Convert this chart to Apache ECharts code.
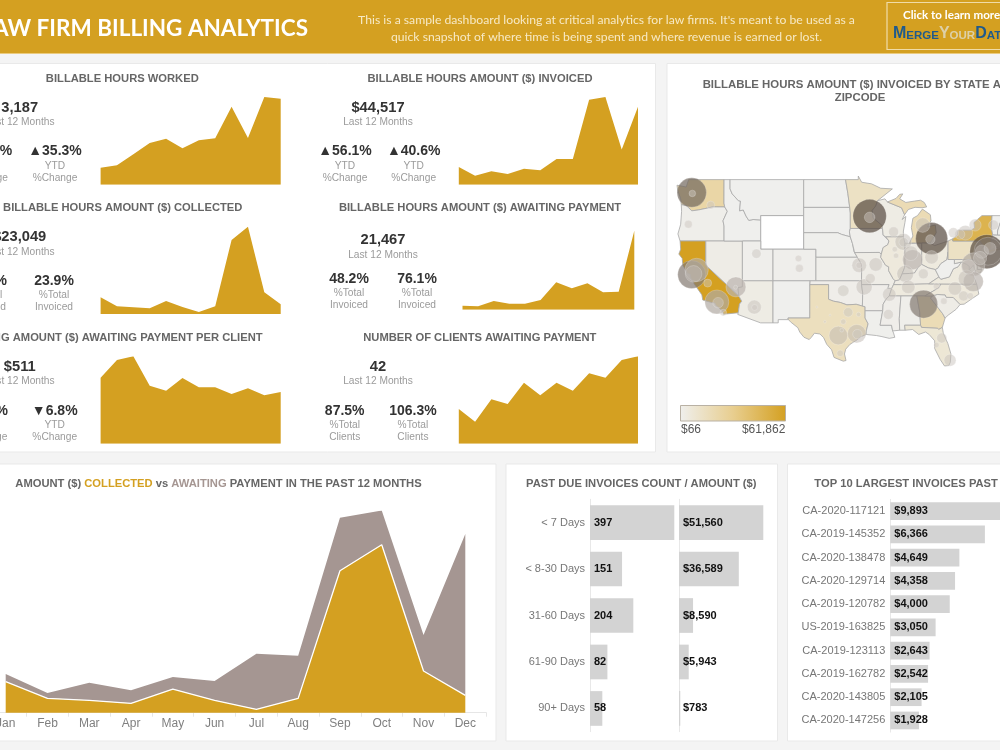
<!DOCTYPE html>
<html><head><meta charset="utf-8">
<style>html,body{margin:0;padding:0;background:#f4f4f4;overflow:hidden}#c{width:1000px;height:750px}</style>
<script src="https://cdn.jsdelivr.net/npm/echarts@6/dist/echarts.min.js"></script>
</head><body><div id="c"></div>
<script>
const months=['Jan','Feb','Mar','Apr','May','Jun','Jul','Aug','Sep','Oct','Nov','Dec'];
const hoursWorked=[51,58,91,125,138,109,133,139,234,140,263,258];
const amountInvoiced=[53,27,40,32,48,43,77,77,254,262,105,233];
const amountCollectedSpark=[50,23,20,17,39,21,6,23,222,262,65,29];
const amountAwaitingSpark=[12,10,26,18,18,29,82,64,79,52,54,237];
const amountPerClient=[198,251,262,174,159,197,169,169,149,166,145,155];
const clientsAwaiting=[104,66,133,119,183,145,183,159,211,198,251,262];
const collected=[93,43,37,28,71,37,10,43,426,504,125,52];
const awaiting=[23,16,53,39,36,58,167,128,159,103,108,484];
const dueCats=['< 7 Days','< 8-30 Days','31-60 Days','61-90 Days','90+ Days'];
const dueCounts=[397,151,204,82,58];
const dueAmounts=[51560,36589,8590,5943,783];
const invoiceIds=['CA-2020-117121','CA-2019-145352','CA-2020-138478','CA-2020-129714','CA-2019-120782','US-2019-163825','CA-2019-123113','CA-2019-162782','CA-2020-143805','CA-2020-147256'];
const invoiceAmounts=[9893,6366,4649,4358,4000,3050,2643,2542,2105,1928];
const stateValues={California:61862,'New York':49000,Washington:23500,Michigan:18500,Texas:15500,Minnesota:13500,Georgia:18000,Pennsylvania:13500,Florida:8000,Illinois:5500,Ohio:5000,Indiana:3500,Kentucky:3500,Tennessee:5000,'North Carolina':6000,Virginia:5000,Arizona:3000,Nevada:2500,Wisconsin:3000,Missouri:2500,Alabama:1000,Mississippi:1500,Louisiana:500,Oregon:1200,Iowa:700,'South Carolina':2500,Maryland:3000,Delaware:1500,'New Jersey':4000,Connecticut:2000,Massachusetts:2500,Arkansas:1500,Oklahoma:1500,Kansas:1000,Colorado:800,Utah:600,'New Mexico':200,Idaho:200,Montana:66,'North Dakota':100,'South Dakota':100,Nebraska:300,'West Virginia':150,Vermont:100,'New Hampshire':300,Maine:300,'Rhode Island':800};
const stateShapes={
Washington:[[[-124.7,48.4],[-123.2,48.2],[-122.8,49],[-117.03,49],[-117.04,46.42],[-116.92,45.99],[-118.98,46],[-119.3,45.93],[-121.2,45.65],[-122.3,45.55],[-122.8,45.9],[-123.2,46.15],[-124,46.25],[-124.1,46.9],[-124.6,47.9]]],
Oregon:[[[-124,46.25],[-123.2,46.15],[-122.8,45.9],[-122.3,45.55],[-121.2,45.65],[-119.3,45.93],[-118.98,46],[-116.92,45.99],[-116.5,45.5],[-117.2,44.4],[-117.03,43.8],[-117.03,42],[-120,42],[-124.2,42],[-124.55,42.85],[-124.1,44],[-123.95,45.5]]],
California:[[[-124.2,42],[-120,42],[-120,39],[-114.63,35],[-114.15,34.3],[-114.52,33.9],[-114.72,32.72],[-117.12,32.53],[-117.3,33],[-118.4,33.75],[-118.5,34.03],[-119.2,34.15],[-120.5,34.45],[-120.65,35.15],[-121.9,36.6],[-122.5,37.5],[-122.5,37.8],[-123,38],[-123.75,39],[-123.85,39.85],[-124.4,40.4],[-124.1,41]]],
Nevada:[[[-120,42],[-114.04,42],[-114.04,37],[-114.04,36.2],[-114.75,36.1],[-114.63,35],[-120,39]]],
Idaho:[[[-117.03,49],[-116.05,49],[-116.05,48],[-115.7,47.45],[-114.7,46.7],[-114.35,46.65],[-114.5,45.55],[-113.9,45.65],[-113.45,44.95],[-113,44.45],[-112.3,44.55],[-111.05,44.5],[-111.05,42],[-114.04,42],[-117.03,42],[-117.03,43.8],[-117.2,44.4],[-116.5,45.5],[-116.92,45.99],[-117.04,46.42]]],
Montana:[[[-116.05,49],[-104.05,49],[-104.05,45.94],[-104.05,45],[-111.05,45],[-111.05,44.5],[-112.3,44.55],[-113,44.45],[-113.45,44.95],[-113.9,45.65],[-114.5,45.55],[-114.35,46.65],[-114.7,46.7],[-115.7,47.45],[-116.05,48]]],
Wyoming:[[[-111.05,45],[-104.05,45],[-104.05,43],[-104.05,41],[-109.05,41],[-111.05,41],[-111.05,42],[-111.05,44.5]]],
Utah:[[[-114.04,42],[-111.05,42],[-111.05,41],[-109.05,41],[-109.05,37],[-114.04,37]]],
Colorado:[[[-109.05,41],[-104.05,41],[-102.05,41],[-102.05,40],[-102.05,37],[-103,37],[-109.05,37]]],
Arizona:[[[-114.04,37],[-109.05,37],[-109.05,31.33],[-111.07,31.33],[-114.8,32.5],[-114.72,32.72],[-114.52,33.9],[-114.15,34.3],[-114.63,35],[-114.75,36.1],[-114.04,36.2]]],
'New Mexico':[[[-109.05,37],[-103,37],[-103.04,36.5],[-103.05,32],[-106.62,32],[-106.53,31.78],[-108.2,31.78],[-108.2,31.33],[-109.05,31.33]]],
'North Dakota':[[[-104.05,49],[-97.23,49],[-96.85,47.5],[-96.55,45.94],[-104.05,45.94]]],
'South Dakota':[[[-104.05,45.94],[-96.55,45.94],[-96.45,45.3],[-96.45,43.5],[-96.6,43.1],[-96.45,42.5],[-97.9,42.8],[-98.5,43],[-104.05,43]]],
Nebraska:[[[-104.05,43],[-98.5,43],[-97.9,42.8],[-96.45,42.5],[-96.1,41.7],[-95.85,40.7],[-95.3,40],[-102.05,40],[-102.05,41],[-104.05,41]]],
Kansas:[[[-102.05,40],[-95.3,40],[-94.6,39.1],[-94.62,37],[-102.05,37]]],
Oklahoma:[[[-103,37],[-94.62,37],[-94.62,36.5],[-94.43,35.4],[-94.48,33.64],[-95.5,33.88],[-97,33.8],[-98.1,34.13],[-99.2,34.3],[-100,34.56],[-100,36.5],[-103.04,36.5]]],
Texas:[[[-106.62,32],[-103.05,32],[-103.04,36.5],[-100,36.5],[-100,34.56],[-99.2,34.3],[-98.1,34.13],[-97,33.8],[-95.5,33.88],[-94.48,33.64],[-94.04,33.55],[-94.04,32],[-93.55,31.2],[-93.85,30.2],[-93.85,29.7],[-94.7,29.4],[-95.4,28.9],[-96.5,28.3],[-97.2,27.6],[-97.4,26.9],[-97.15,25.95],[-97.6,25.85],[-99.1,26.4],[-99.5,27.5],[-100.3,28.3],[-100.8,29.25],[-101.4,29.77],[-102.3,29.88],[-102.8,29.3],[-103.15,28.98],[-104,29.3],[-104.7,30.05],[-105,30.65],[-106.2,31.47],[-106.53,31.78]]],
Minnesota:[[[-97.23,49],[-95.15,49],[-95.15,49.38],[-94.6,48.72],[-93,48.55],[-91.5,48.07],[-89.6,48],[-92,46.7],[-92.3,46.1],[-92.88,45.6],[-92.75,44.75],[-91.25,43.85],[-91.2,43.5],[-96.45,43.5],[-96.45,45.3],[-96.55,45.94],[-96.85,47.5]]],
Iowa:[[[-96.45,43.5],[-91.2,43.5],[-91.1,42.7],[-90.15,42],[-90.35,41.55],[-91.1,41.2],[-91.4,40.4],[-91.75,40.6],[-95.75,40.58],[-95.85,40.7],[-96.1,41.7],[-96.45,42.5],[-96.6,43.1]]],
Missouri:[[[-95.75,40.58],[-91.75,40.6],[-91.4,40.4],[-91.5,40],[-90.7,39],[-90.2,38.8],[-90.2,38.3],[-89.5,37.3],[-89.15,37],[-89.4,36.5],[-89.7,36],[-90.37,36],[-90.15,36.5],[-94.62,36.5],[-94.62,37],[-94.6,39.1],[-95.3,40]]],
Arkansas:[[[-94.62,36.5],[-90.15,36.5],[-90.37,36],[-89.7,36],[-90.1,35],[-90.6,34.6],[-91.1,33.9],[-91.17,33],[-94.04,33],[-94.04,33.55],[-94.48,33.64],[-94.43,35.4]]],
Louisiana:[[[-94.04,33],[-91.17,33],[-91.6,31],[-89.73,31],[-89.55,30.2],[-89.4,29.9],[-89.2,29.3],[-90.1,29.15],[-91.3,29.4],[-92.2,29.55],[-93.85,29.7],[-93.85,30.2],[-93.55,31.2],[-94.04,32]]],
Wisconsin:[[[-92,46.7],[-90.8,46.9],[-90.4,46.55],[-88.1,45.9],[-87.6,45.1],[-88,44.55],[-87.4,44.9],[-87.55,44.2],[-87.8,43.2],[-87.8,42.5],[-90.65,42.5],[-91.1,42.7],[-91.2,43.5],[-91.25,43.85],[-92.75,44.75],[-92.88,45.6],[-92.3,46.1]]],
Illinois:[[[-90.65,42.5],[-87.8,42.5],[-87.55,41.75],[-87.53,39.3],[-87.6,38.7],[-88,37.9],[-88.45,37.1],[-89.15,37],[-89.5,37.3],[-90.2,38.3],[-90.2,38.8],[-90.7,39],[-91.5,40],[-91.4,40.4],[-91.1,41.2],[-90.35,41.55],[-90.15,42]]],
Indiana:[[[-87.55,41.75],[-87,41.7],[-84.8,41.76],[-84.82,39.1],[-85.4,38.7],[-86,38],[-86.8,37.95],[-88,37.9],[-87.6,38.7],[-87.53,39.3]]],
Michigan:[[[-86.8,41.76],[-84.8,41.76],[-83.45,41.73],[-83.15,42.1],[-82.45,43],[-82.6,43.9],[-83.9,43.7],[-83.3,44.4],[-83.4,45.1],[-84.7,45.75],[-85.5,45],[-86.25,44.7],[-86.5,43.6],[-86.25,42.6]],[[-90.4,46.55],[-89,46.95],[-88.4,47.4],[-87.9,47.45],[-88.4,46.9],[-87.4,46.5],[-86,46.65],[-85,46.75],[-84.4,46.5],[-84,46],[-84.75,45.9],[-85.9,45.95],[-87,45.7],[-87.6,45.1],[-88.1,45.9]]],
Ohio:[[[-84.8,41.76],[-83.45,41.73],[-82.7,41.45],[-81.3,41.8],[-80.52,42],[-80.52,40.64],[-80.7,39.7],[-81.7,39.2],[-82.2,38.6],[-82.6,38.45],[-83.7,38.65],[-84.82,39.1]]],
Kentucky:[[[-89.4,36.5],[-88.07,36.5],[-83.68,36.6],[-82,37.5],[-82.6,38.45],[-83.7,38.65],[-84.82,39.1],[-85.4,38.7],[-86,38],[-86.8,37.95],[-88,37.9],[-88.45,37.1],[-89.15,37]]],
Tennessee:[[[-89.7,36],[-89.4,36.5],[-88.07,36.5],[-83.68,36.6],[-81.68,36.59],[-82,36.1],[-84.3,35],[-85.6,35],[-88.2,35],[-90.1,35]]],
Mississippi:[[[-90.1,35],[-88.2,35],[-88.47,31.9],[-88.4,30.3],[-89.55,30.2],[-89.73,31],[-91.6,31],[-91.17,33],[-91.1,33.9],[-90.6,34.6]]],
Alabama:[[[-88.2,35],[-85.6,35],[-85.13,32.8],[-85,31],[-87.6,31],[-87.5,30.3],[-88.4,30.3],[-88.47,31.9]]],
Georgia:[[[-85.6,35],[-83.1,35],[-83.35,34.7],[-81.4,32.6],[-81,32],[-81.45,30.7],[-82.05,30.4],[-82.2,30.57],[-84.85,30.7],[-85,31],[-85.13,32.8]]],
Florida:[[[-87.6,31],[-85,31],[-84.85,30.7],[-82.2,30.57],[-82.05,30.4],[-81.45,30.7],[-81.3,29.9],[-80.55,28.4],[-80.05,26.9],[-80.15,25.7],[-80.4,25.2],[-81.1,25.15],[-81.8,26.1],[-82.7,27.7],[-82.7,28.8],[-83.6,29.7],[-84.2,30.05],[-85.3,29.7],[-86.3,30.4],[-87.5,30.3]]],
'South Carolina':[[[-83.35,34.7],[-83.1,35],[-82.3,35.2],[-81,35.15],[-80.8,34.82],[-79.67,34.8],[-78.55,33.86],[-79.2,33.2],[-80.5,32.4],[-81,32],[-81.4,32.6]]],
'North Carolina':[[[-84.3,35],[-82,36.1],[-81.68,36.59],[-75.85,36.55],[-75.5,35.25],[-76.5,34.7],[-77.9,33.9],[-78.55,33.86],[-79.67,34.8],[-80.8,34.82],[-81,35.15],[-82.3,35.2],[-83.1,35]]],
Virginia:[[[-83.68,36.6],[-81.68,36.59],[-75.85,36.55],[-76.3,37.5],[-76.3,38],[-77.05,38.4],[-77.05,38.85],[-77.5,39.12],[-78.35,39.4],[-78.9,38.8],[-79.65,38.55],[-80.3,37.5],[-81.7,37.2],[-82,37.5]]],
'West Virginia':[[[-82.6,38.45],[-82.2,38.6],[-81.7,39.2],[-80.7,39.7],[-80.52,40.64],[-80.52,39.72],[-79.48,39.72],[-79.48,39.2],[-78.35,39.4],[-78.9,38.8],[-79.65,38.55],[-80.3,37.5],[-81.7,37.2],[-82,37.5]]],
Pennsylvania:[[[-80.52,42],[-79.76,42.27],[-79.76,42],[-75.35,42],[-74.7,41.35],[-75.13,40.97],[-75.1,40.4],[-74.72,40.15],[-75.4,39.8],[-75.79,39.72],[-79.48,39.72],[-80.52,39.72],[-80.52,40.64]]],
'New York':[[[-79.76,42.27],[-79,42.7],[-78.9,43.3],[-76.8,43.3],[-76.2,43.55],[-76.3,44.2],[-75,45],[-73.35,45],[-73.45,43.6],[-73.25,42.75],[-73.5,42.05],[-73.5,41.2],[-73.65,41],[-71.9,41.05],[-73.7,40.6],[-74,40.7],[-73.9,41],[-74.7,41.35],[-75.35,42],[-79.76,42]]],
'New Jersey':[[[-74.7,41.35],[-73.9,41],[-74,40.5],[-74.1,39.75],[-74.9,38.95],[-75.5,39.5],[-74.72,40.15],[-75.1,40.4],[-75.13,40.97]]],
Maryland:[[[-79.48,39.72],[-75.79,39.72],[-75.7,38.46],[-75.05,38.45],[-75.25,38.03],[-76,37.95],[-76.4,39],[-77.05,38.4],[-77.05,38.85],[-77.5,39.12],[-78.35,39.4],[-79.48,39.2]]],
Delaware:[[[-75.79,39.72],[-75.4,39.8],[-75.1,38.6],[-75.05,38.45],[-75.7,38.46]]],
Connecticut:[[[-73.5,42.05],[-71.8,42],[-71.85,41.32],[-73.65,41],[-73.5,41.2]]],
'Rhode Island':[[[-71.8,42],[-71.38,42],[-71.15,41.5],[-71.85,41.32]]],
Massachusetts:[[[-73.5,42.05],[-73.25,42.75],[-72.46,42.73],[-71.3,42.7],[-70.8,42.87],[-70.9,42.3],[-70.5,41.8],[-70,41.7],[-71.15,41.5],[-71.38,42],[-71.8,42]]],
Vermont:[[[-73.35,45],[-71.5,45],[-72.05,44.1],[-72.45,43.2],[-72.46,42.73],[-73.25,42.75],[-73.45,43.6]]],
'New Hampshire':[[[-71.5,45],[-71.08,45.3],[-71,43.5],[-70.7,43.07],[-70.8,42.87],[-71.3,42.7],[-72.46,42.73],[-72.45,43.2],[-72.05,44.1]]],
Maine:[[[-71.08,45.3],[-70.3,45.9],[-70,46.7],[-69.2,47.45],[-68.3,47.35],[-67.8,47.05],[-67.8,45.7],[-67,44.85],[-69,44],[-70.2,43.6],[-70.7,43.07],[-71,43.5]]]
};
const zipBubbles=[
[-122.3,47.6,8640],[-122.2,47.5,440],[-119.2,46.2,640],[-122.85,44,640],[-93.3,44.95,11150],[-93.3,44.8,1120],[-83.2,42.3,10240],[-83.4,42.2,880],[-84.65,43.9,2130],
[-74.2,40.7,11560],[-74,40.75,7840],[-73.67,41.1,1440],[-75,40.7,1800],[-122.3,37.8,7840],[-122,37.9,2760],[-121.5,38.4,5480],[-118.2,34.2,5760],[-118,34.1,1120],[-119.7,36.7,640],[-117.15,32.75,440],
[-115.1,36.2,4000],[-115.15,36.15,160],[-112.1,33.5,1960],[-112.05,33.45,360],[-111.75,40.45,880],[-104.75,38.6,640],[-104.9,39.85,440],[-96.8,32.8,880],[-98.4,29.55,3460],[-95.4,29.8,3460],[-95.3,29.75,880],
[-97.6,31.5,290],[-95.1,32.5,200],[-97.85,30.3,140],[-100.6,31.5,70],[-98.1,27,440],[-99.75,32.4,40],[-101.9,33.5,40],[-97.6,35.7,1300],[-95,39,2130],[-95,39,440],[-92.3,39.1,1800],[-93.2,37.3,1000],[-94.2,36.2,2560],[-90.1,35.2,1800],[-90.25,32.5,1000],
[-87.8,41.9,2760],[-87.75,41.85,880],[-89.4,43.1,1000],[-86.3,39.7,4000],[-86.6,40.5,2130],[-87.5,37.9,2760],[-87,36.2,1800],[-89,40.2,290],[-89.2,41,290],[-84.5,33.9,7840],[-81.55,29.2,1000],[-80.2,26,1440],[-82.4,28.2,290],
[-83.2,40,1800],[-84.55,37.9,1000],[-82.4,36.3,440],[-81.2,34.3,440],[-76.4,39.1,5480],[-77.5,37.3,2760],[-76.4,36.9,4000],[-79.4,36,1800],[-78.6,42.8,1000],[-76.1,43.9,1440],[-77.7,43,2130],[-77.2,38.8,2130],[-73.1,43.9,1000],[-78,35,1000],[-76.9,35,440],[-79.65,43,1000],[-75.3,39.9,1800]
];
const legendMin=66, legendMax=61862;

const GOLD='#D4A021', TAUPE='#A59692', FONT='"Liberation Sans",Arial,sans-serif', HEAD='Lato,"Open Sans",sans-serif';
const RAMP=['#EFEFED','#E8CE8F','#D4A021'];
echarts.registerMap('USA',{type:'FeatureCollection',features:Object.keys(stateShapes).map(n=>({type:'Feature',properties:{name:n},geometry:{type:'MultiPolygon',coordinates:stateShapes[n].map(r=>[r])}}))});

const rect=(x,y,w,h,fill,stroke,lw)=>({type:'rect',z:0,shape:{x,y,width:w,height:h},style:{fill,stroke:stroke||null,lineWidth:lw||0},silent:true});
const txt=(text,x,y,size,color,weight,align,extra)=>({type:'text',z:5,x,y,silent:true,style:Object.assign({text,fill:color,fontSize:size,fontWeight:weight||'normal',fontFamily:FONT,align:align||'center',verticalAlign:'middle'},extra||{})});
const card=(x,y,w,h)=>rect(x+.5,y+.5,w,h,'#fff','#e9e9e9',1);

const kpis=[
 {title:'BILLABLE HOURS WORKED',tx:122.3,ty:79.3,big:'3,187',bx:19.7,by:107.7,sy:122.3,st:151,l1:165.7,l2:178,s:[['▲26.2%',-14.5,'YTD','%Change'],['▲35.3%',55,'YTD','%Change']]},
 {title:'BILLABLE HOURS AMOUNT ($) INVOICED',tx:480,ty:79.3,big:'$44,517',bx:378,by:107.7,sy:122.3,st:151,l1:165.7,l2:178,s:[['▲56.1%',345,'YTD','%Change'],['▲40.6%',413.7,'YTD','%Change']]},
 {title:'BILLABLE HOURS AMOUNT ($) COLLECTED',tx:122.7,ty:208.3,big:'$23,049',bx:19.7,by:237.3,sy:252,st:281.3,l1:295,l2:307.3,s:[['51.8%',-13,'%Total','Invoiced'],['23.9%',54,'%Total','Invoiced']]},
 {title:'BILLABLE HOURS AMOUNT ($) AWAITING PAYMENT',tx:480,ty:208.3,big:'21,467',bx:383,by:240,sy:254.7,st:279,l1:293.3,l2:305.3,s:[['48.2%',349,'%Total','Invoiced'],['76.1%',417,'%Total','Invoiced']]},
 {title:'BILLING AMOUNT ($) AWAITING PAYMENT PER CLIENT',tx:262.6,ty:338,right:true,big:'$511',bx:19.8,by:367,sy:381.3,st:410.7,l1:424.7,l2:437,s:[['▼3.1%',-15,'YTD','%Change'],['▼6.8%',54.7,'YTD','%Change']]},
 {title:'NUMBER OF CLIENTS AWAITING PAYMENT',tx:479.8,ty:338,big:'42',bx:378,by:367,sy:381.3,st:410.7,l1:424.7,l2:437,s:[['87.5%',344.7,'%Total','Clients'],['106.3%',412.9,'%Total','Clients']]}
];
const g=[];
g.push(rect(0,0,1000,53,GOLD), rect(0,53,1000,1,'#EBCB7E'));
g.push(card(-40,63,695,388.5),card(666.5,63,400,388.5),card(-40,463.5,535.5,277),card(505.5,463.5,271.5,277),card(787,463.5,300,277));
g.push(txt('LAW FIRM BILLING ANALYTICS',308,29,22.5,'#fff','bold','right',{fontFamily:HEAD}));
g.push(txt("This is a sample dashboard looking at critical analytics for law firms. It's meant to be used as a",606.5,20,12.2,'#F7E9C5','normal','center',{fontFamily:HEAD}));
g.push(txt('quick snapshot of where time is being spent and where revenue is earned or lost.',606.5,37.5,12.2,'#F7E9C5','normal','center',{fontFamily:HEAD}));
g.push({type:'rect',z:1,shape:{x:887,y:2.5,width:140,height:47},style:{fill:'none',stroke:'#F0DCA8',lineWidth:1.2},silent:true});
g.push(txt('Click to learn more',903,15,11.6,'#fff','bold','left',{fontFamily:HEAD}));
g.push({type:'text',z:5,x:893,y:34,silent:true,style:{text:'{m|M}{s|ERGE}{y|Y}{o|OUR}{m|D}{s|ATA}',verticalAlign:'middle',align:'left',rich:{
 m:{fontSize:16,fontWeight:'bold',fontFamily:FONT,fill:'#1F5A8C',verticalAlign:'bottom'},s:{fontSize:11.5,fontWeight:'bold',fontFamily:FONT,fill:'#1F5A8C',verticalAlign:'bottom'},
 y:{fontSize:16,fontWeight:'bold',fontFamily:FONT,fill:'#DDD0A8',verticalAlign:'bottom'},o:{fontSize:11.5,fontWeight:'bold',fontFamily:FONT,fill:'#DDD0A8',verticalAlign:'bottom'}}}});
const TITLE='#666666', SUB='#9B9B9B', DARK='#333333';
kpis.forEach(k=>{
 g.push(txt(k.title,k.tx,k.ty,11.2,TITLE,'bold',k.right?'right':'center'));
 g.push(txt(k.big,k.bx,k.by,14.7,DARK,'bold'));
 g.push(txt('Last 12 Months',k.bx,k.sy,10.2,SUB));
 k.s.forEach(s=>{g.push(txt(s[0],s[1],k.st,14,DARK,'bold'));g.push(txt(s[2],s[1],k.l1,10.2,SUB));g.push(txt(s[3],s[1],k.l2,10.2,SUB));});
});
g.push(txt('BILLABLE HOURS AMOUNT ($) INVOICED BY STATE AND',860,84.6,11.4,TITLE,'bold'));
g.push(txt('ZIPCODE',860,97.6,11.4,TITLE,'bold'));
g.push({type:'text',z:5,x:15.3,y:484.3,silent:true,style:{text:'{a|AMOUNT ($) }{b|COLLECTED}{a| vs }{c|AWAITING}{a| PAYMENT IN THE PAST 12 MONTHS}',align:'left',verticalAlign:'middle',rich:{
 a:{fontSize:11.2,fontWeight:'bold',fontFamily:FONT,fill:TITLE},b:{fontSize:11.2,fontWeight:'bold',fontFamily:FONT,fill:GOLD},c:{fontSize:11.2,fontWeight:'bold',fontFamily:FONT,fill:TAUPE}}}});
g.push(txt('PAST DUE INVOICES COUNT / AMOUNT ($)',641.3,484.3,11.2,TITLE,'bold'));
g.push(txt('TOP 10 LARGEST INVOICES PAST DUE',814.3,484.3,11.2,TITLE,'bold','left'));
g.push({type:'rect',z:1,shape:{x:680.5,y:405.5,width:105,height:15.5},silent:true,style:{stroke:'#b9b1a4',lineWidth:1,fill:new echarts.graphic.LinearGradient(0,0,1,0,[{offset:0,color:RAMP[0]},{offset:.5,color:RAMP[1]},{offset:1,color:RAMP[2]}])}});
g.push(txt('$'+legendMin,681,429.5,12,'#555','normal','left'));
g.push(txt('$'+legendMax.toLocaleString('en-US'),785.3,429.5,12,'#555','normal','right'));

const grids=[],xs=[],ys=[],series=[];
function spark(data,l,r,t,b,max){
 const i=grids.length;
 grids.push({left:l,top:t,width:r-l,height:b-t,outerBoundsMode:'none'});
 xs.push({gridIndex:i,type:'category',show:false,boundaryGap:false,data:months});
 ys.push({gridIndex:i,type:'value',show:false,min:0,max});
 series.push({type:'line',xAxisIndex:i,yAxisIndex:i,data,showSymbol:false,silent:true,lineStyle:{width:0},areaStyle:{color:GOLD,opacity:1}});
}
spark(hoursWorked,100.6,280.7,97,184.7,263);
spark(amountInvoiced,458.8,638,97,184.7,262);
spark(amountCollectedSpark,100.6,280.7,226.7,314,262);
spark(amountAwaitingSpark,462.5,634.3,230.7,309.7,237);
spark(amountPerClient,100.6,280.7,356.3,443.7,262);
spark(clientsAwaiting,458.8,638,356.3,443.7,262);

let i=grids.length;
grids.push({left:-15.2,top:510.4,width:501.4,height:202.3,outerBoundsMode:'none'});
xs.push({gridIndex:i,type:'category',boundaryGap:true,data:months,axisLine:{lineStyle:{color:'#e6e6e6'}},axisTick:{show:true,length:4,lineStyle:{color:'#e6e6e6'}},axisLabel:{color:'#808080',fontSize:12,fontFamily:FONT,margin:5,interval:0,hideOverlap:false}});
ys.push({gridIndex:i,type:'value',show:false,min:0,max:607});
series.push({name:'Collected',type:'line',stack:'t',z:4,xAxisIndex:i,yAxisIndex:i,data:collected,showSymbol:false,silent:true,lineStyle:{color:'#fff',width:1.3},areaStyle:{color:GOLD,opacity:1}});
series.push({name:'Awaiting',type:'line',stack:'t',z:3,xAxisIndex:i,yAxisIndex:i,data:awaiting,showSymbol:false,silent:true,lineStyle:{width:0},areaStyle:{color:TAUPE,opacity:1}});

function bars(cats,data,l,w,max,t,h,bw,fmt,showLabels){
 const k=grids.length;
 grids.push({left:l,top:t,width:w,height:h,outerBoundsMode:'none'});
 xs.push({gridIndex:k,type:'value',show:false,min:0,max});
 ys.push({gridIndex:k,type:'category',inverse:true,data:cats,axisLine:{show:true,lineStyle:{color:'#e8e8e8'}},axisTick:{show:false},axisLabel:{show:showLabels,color:'#777',fontSize:11,fontFamily:FONT,margin:5,interval:0}});
 series.push({type:'bar',xAxisIndex:k,yAxisIndex:k,data,barWidth:bw,silent:true,itemStyle:{color:'#D3D3D3'},label:{show:true,position:'insideLeft',distance:4,color:'#111',fontSize:11,fontWeight:'bold',fontFamily:FONT,formatter:p=>fmt(p.value)}});
}
const money=v=>'$'+v.toLocaleString('en-US');
bars(dueCats,dueCounts,590,84.3,397,499.3,232.4,34.7,v=>String(v),true);
bars(dueCats,dueAmounts,679,84.3,51560,499.3,232.4,34.7,money,false);
bars(invoiceIds,invoiceAmounts,890.3,147,9893,499.4,232.7,17.7,money,true);

const mapIdx=series.length;
series.push({type:'map',geoIndex:0,silent:true,data:Object.keys(stateValues).map(n=>({name:n,value:stateValues[n]}))});
const bubbleColor=v=>{
 const a=Math.min(1,v/11560), t=a<.5?a*.5:Math.min(1,.25+(a-.5)*2.1), alpha=a<.3?.62:.88;
 const lo=[208,203,197],hi=[85,72,62], c=lo.map((x,j)=>Math.round(x+(hi[j]-x)*t));
 return `rgba(${c[0]},${c[1]},${c[2]},${alpha})`;
};
series.push({type:'scatter',coordinateSystem:'geo',geoIndex:0,z:6,silent:true,data:zipBubbles.slice().sort((p,q)=>q[2]-p[2]),
 symbolSize:d=>2*Math.sqrt(d[2]/40),
 itemStyle:{borderColor:'rgba(255,255,255,.45)',borderWidth:.6,color:p=>bubbleColor(p.value[2])}});

const RAD=Math.PI/180;
const chart=echarts.init(document.getElementById('c'),null,{renderer:'canvas'});
chart.setOption({
 animation:false,backgroundColor:'#F4F4F4',tooltip:{show:false},
 graphic:{elements:g},grid:grids,xAxis:xs,yAxis:ys,
 geo:{map:'USA',silent:true,roam:false,layoutCenter:[854,271],layoutSize:354,
  projection:{project:p=>[p[0],-Math.log(Math.tan(Math.PI/4+p[1]*RAD/2))/RAD],unproject:p=>[p[0],(2*Math.atan(Math.exp(-p[1]*RAD))-Math.PI/2)/RAD]},
  itemStyle:{areaColor:'#ffffff',borderColor:'#a8a8a8',borderWidth:.8},label:{show:false},emphasis:{disabled:true}},
 visualMap:{type:'continuous',show:false,seriesIndex:mapIdx,min:legendMin,max:legendMax,inRange:{color:RAMP}},
 series
});
</script></body></html>
